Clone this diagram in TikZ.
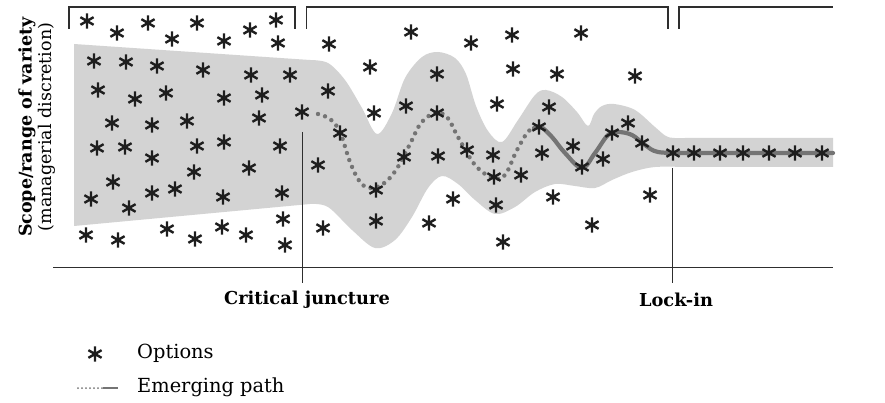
\documentclass[tikz,border=0pt]{standalone}
\usepackage{fontspec}
\setmainfont{DejaVu Serif}
\definecolor{band}{HTML}{D3D3D3}
\definecolor{ink}{HTML}{1E1E1E}
\definecolor{pathgrey}{HTML}{747474}
\definecolor{rule}{HTML}{2E2E2E}
\tikzset{
  opt/.style={inner sep=0pt, minimum size=20pt,
    path picture={
      \draw[ink, line width=2.4pt]
        ($(path picture bounding box.center)+(90:7.6pt)$) -- ($(path picture bounding box.center)+(270:7.6pt)$)
        ($(path picture bounding box.center)+(30:7.6pt)$) -- ($(path picture bounding box.center)+(210:7.6pt)$)
        ($(path picture bounding box.center)+(150:7.6pt)$) -- ($(path picture bounding box.center)+(330:7.6pt)$);
    }},
  bracket/.style={rule, line width=1.8pt},
  axisline/.style={rule, line width=1.8pt},
  dotpath/.style={pathgrey, line width=4.4pt, line cap=round, dash pattern=on 0pt off 7.4pt},
  solidpath/.style={pathgrey, line width=4.2pt, line cap=round, line join=round},
  lab/.style={font=\fontsize{17.8}{20}\selectfont\bfseries, inner sep=0pt},
  legtext/.style={font=\fontsize{19.4}{22}\selectfont, inner sep=0pt, anchor=west},
}
\usetikzlibrary{calc}
\begin{document}
\begin{tikzpicture}[x=1pt,y=-1pt]
\useasboundingbox (0,0) rectangle (885,403);

% grey band
\fill[band] (74,44) -- (310,60)
  -- plot[smooth, tension=0.55] coordinates {(310,60) (328,63) (345,80) (362,108) (377,134) (392,113) (405,78) (422,57) (438,52) (455,58) (466,74) (476,106) (488,131) (502,142) (518,120) (535,95) (546,90) (562,97) (577,112) (588,126) (594,114) (602,106) (614,104) (635,110) (655,127) (668,137) (685,138)}
  -- (833,138) -- (833,167) -- (685,167)
  -- plot[smooth, tension=0.55] coordinates {(685,167) (655,167) (632,172) (612,180) (595,188) (575,186) (555,184) (535,192) (515,207) (495,214) (475,200) (458,184) (442,176) (428,188) (412,217) (395,240) (375,248) (352,230) (328,207) (310,204)}
  -- (74,226) -- cycle;

% brackets
\draw[bracket] (69,29) -- (69,7) -- (295,7) -- (295,29);
\draw[bracket] (306.5,29) -- (306.5,7) -- (668,7) -- (668,29);
\draw[bracket] (679,29) -- (679,7) -- (833,7);

% axis
\coordinate (ax0) at (53,267.5);
\coordinate (ax1) at (833,267.5);
\draw[axisline] (ax0) -- (ax1);

% labels
\node[lab] (cj) at (307,300) {Critical juncture};
\node[lab] (li) at (676,300) {Lock-in};
\coordinate (cjtop) at (302.5,132);
\coordinate (litop) at (672.5,168);
\draw[axisline] (cjtop) -- (302.5,283);
\draw[axisline] (litop) -- (672.5,283);

% emerging path
\draw[dotpath] plot[smooth, tension=0.6] coordinates {(318,114) (330,119) (340,132) (350,162) (360,182) (370,188) (383,184) (396,170) (410,144) (421,123) (435,113) (447,117) (458,137) (475,165) (493,178) (505,175) (516,152) (527,133) (534,128)};
\draw[solidpath] plot[smooth, tension=0.6] coordinates {(534,128) (541,127) (552,137) (565,153) (582,168) (595,153) (608,135) (618,132) (632,135) (645,145) (658,152) (685,153)} -- (833,153);

% options
\foreach \p [count=\i] in {
 (87,21),(117,33),(148,23),(172,39),(197,23),(224,41),(250,30),(276,20),(278,43),
 (94,61),(126,62),(157,66),(203,70),(251,75),(290,75),
 (98,90),(135,99),(166,93),(224,98),(262,95),
 (302,112),
 (112,123),(152,125),(187,121),(259,118),
 (97,148),(125,147),(152,158),(197,146),(224,142),(280,146),
 (249,168),(194,172),
 (113,182),(91,199),(129,208),(152,193),(175,189),(223,197),(282,193),
 (86,235),(118,240),(167,229),(195,239),(222,227),(246,235),(283,219),(285,245),
 (329,44),(411,32),(471,43),(512,35),(581,33),
 (370,67),(437,74),(513,69),(557,74),(635,76),
 (328,91),(374,113),(406,106),(437,113),(497,104),(549,107),
 (340,133),(539,127),
 (318,165),(404,157),(438,156),(467,150),(493,155),(542,153),(573,146),(603,159),
 (376,190),(494,177),(521,175),(582,167),
 (453,199),(496,205),(553,197),(650,195),
 (323,228),(376,221),(429,223),(503,242),(592,225),
 (612,133),(628,123),(642,143),
 (673,153),(694,153),(720,153),(743,153),(769,153),(795,153),(822,153)}
 \node[opt] (o\i) at \p {};

% y-axis label
\node[rotate=90, align=center, inner sep=0pt, font=\fontsize{17.5}{20}\selectfont] (ylab) at (37,127)
  {\textbf{Scope/range of variety}\\(managerial discretion)};

% legend
\node[opt] (legopt) at (95,354) {};
\node[legtext] (legopttxt) at (137,353) {Options};
\coordinate (lp0) at (78,388);
\coordinate (lp1) at (103,388);
\coordinate (lp2) at (118,388);
\draw[pathgrey, line width=2pt, line cap=round, dash pattern=on 0pt off 4pt] (lp0) -- (lp1);
\draw[pathgrey, line width=2.6pt] (lp1) -- (lp2);
\node[legtext] (legpathtxt) at (137,387) {Emerging path};
\end{tikzpicture}
\end{document}
